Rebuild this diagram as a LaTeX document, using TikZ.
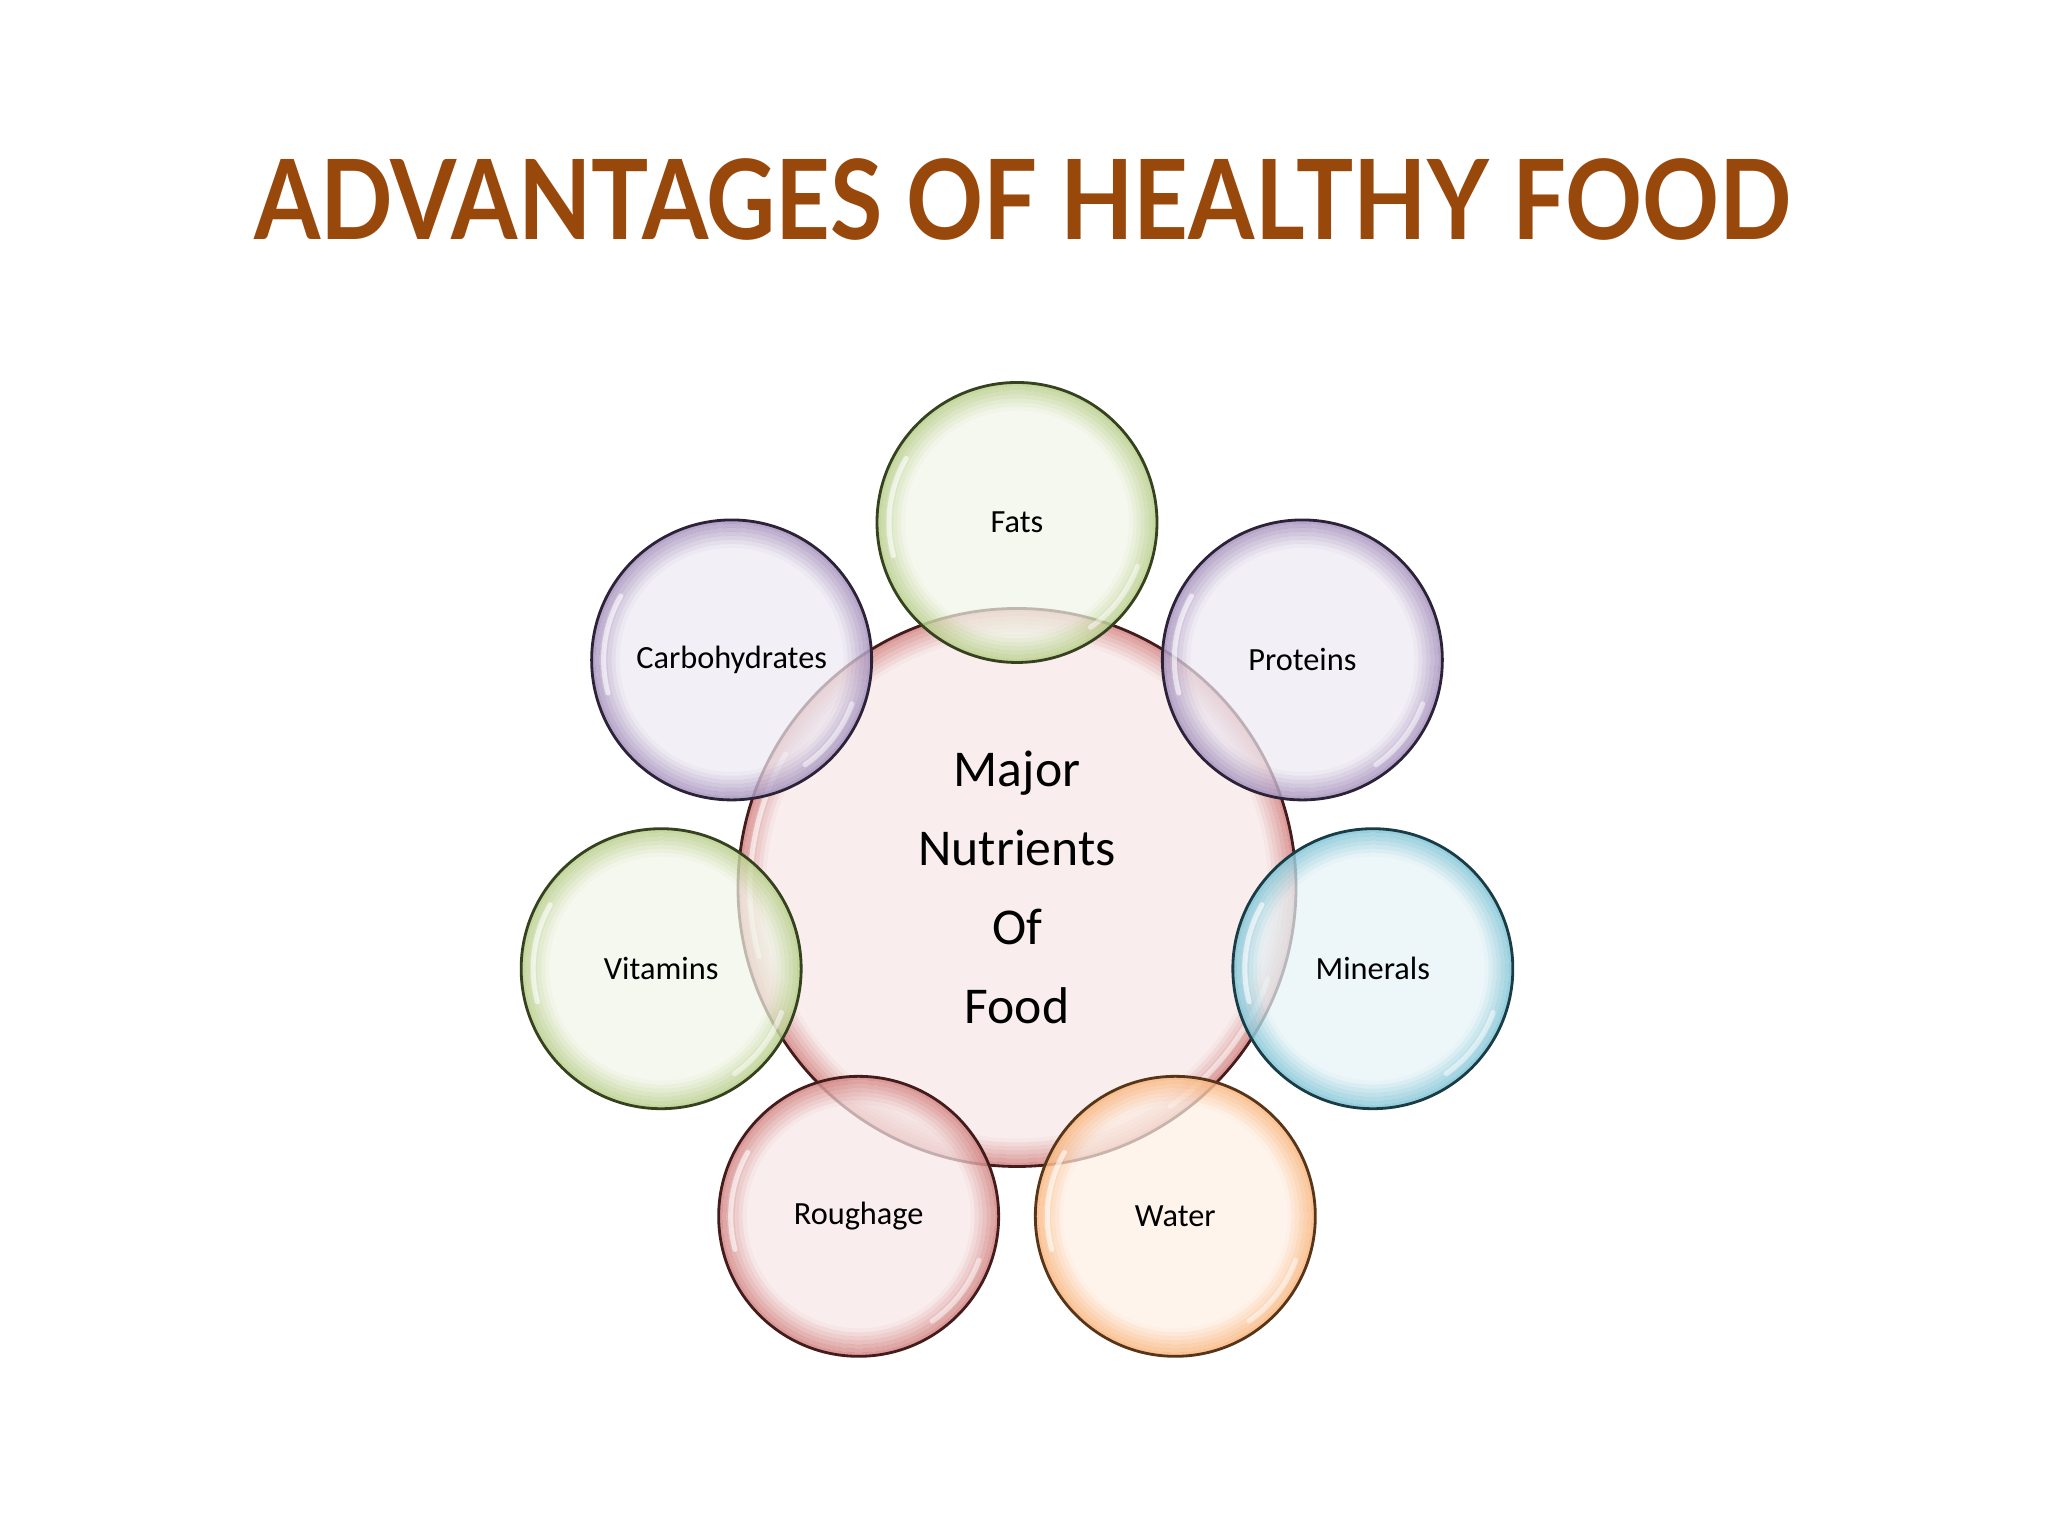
\documentclass[tikz,border=0pt]{standalone}
\usepackage{fontspec}
\setmainfont{Carlito}
\newfontfamily\titlefont[FakeStretch=0.862]{Lato}
\usetikzlibrary{
    positioning,
    calc
}
\definecolor{titleBrown}{RGB}{153, 72, 12}
\definecolor{officeGreen}{RGB}{155, 187, 89}
\definecolor{officePurple}{RGB}{128, 100, 162}
\definecolor{officeBlue}{RGB}{75, 172, 198}
\definecolor{officeOrange}{RGB}{247, 150, 70}
\definecolor{officeRed}{RGB}{192, 80, 77}

\tikzset{
    bubble/.style n args={2}{
        circle, minimum size=2*#2 cm, inner sep=0pt,
        draw=#1!35!black, line width=0.8pt,
        fill=#1!14, fill opacity=0.72, text opacity=1,
        path picture={
            \foreach \k in {1,...,7}
                \draw[#1, line width=0.04cm, draw opacity=0.6-0.08*\k]
                    (path picture bounding box.center) circle ({#2-0.04*\k+0.02});
            \draw[white, line width=0.05cm, draw opacity=0.6, line cap=round]
                ($(path picture bounding box.center)+(150:#2-0.12)$)
                arc[start angle=150, end angle=195, radius=#2-0.12];
            \draw[white, line width=0.05cm, draw opacity=0.5, line cap=round]
                ($(path picture bounding box.center)+(-20:#2-0.12)$)
                arc[start angle=-20, end angle=-55, radius=#2-0.12];
        }
    },
    smalltext/.style={font=\fontsize{9.2}{11}\selectfont},
    bigtext/.style={font=\fontsize{14.7}{22.4}\selectfont, align=center}
}

\begin{document}
\begin{tikzpicture}
    \useasboundingbox (0,0) rectangle (20.48,15.36);

    \node[font=\titlefont\bfseries\fontsize{31.5}{36}\selectfont, text=titleBrown]
        (title) at (10.23, 13.36) {ADVANTAGES OF HEALTHY FOOD};

    % centre circle first, the others lie over it
    \node[bubble={officeRed}{2.79}, bigtext] (major) at (10.17, 6.485)
        {Major\\Nutrients\\Of\\Food};

    % seven nutrients, 360/7 degrees apart
    \foreach \ang/\nm/\txt/\col in {
            90/fats/Fats/officeGreen,
            38.57/proteins/Proteins/officePurple,
            -12.86/minerals/Minerals/officeBlue,
            -64.29/water/Water/officeOrange,
            -115.71/roughage/Roughage/officeRed,
            -167.14/vitamins/Vitamins/officeGreen,
            141.43/carbs/Carbohydrates/officePurple}
        \node[bubble={\col}{1.4}, smalltext] (\nm)
            at ($(major.center)+(\ang:3.65)$) {\txt};
\end{tikzpicture}
\end{document}
